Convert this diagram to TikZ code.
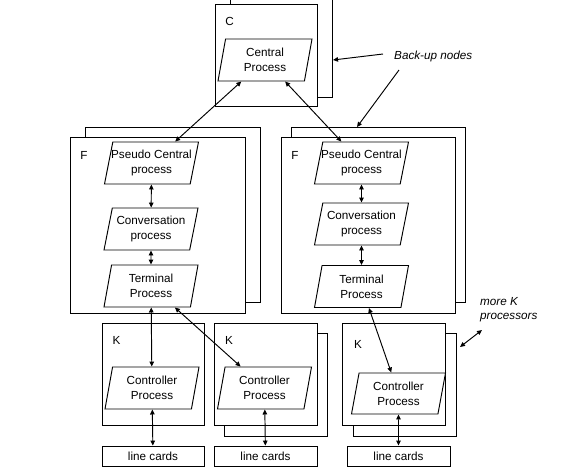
\documentclass[tikz,border=0pt]{standalone}
\usepackage{fontspec}
\setmainfont{Liberation Sans}
\usetikzlibrary{arrows.meta,shapes.geometric,calc}
\begin{document}
\begin{tikzpicture}[x=1pt,y=-1pt,
  every node/.style={font=\fontsize{11.7}{14.7}\selectfont},
  box/.style={draw, fill=white, line width=0.95pt, inner sep=0pt},
  para/.style={draw, fill=white, line width=0.95pt, trapezium, trapezium left angle=72,
    trapezium right angle=108, trapezium stretches body, minimum width=94pt,
    minimum height=42pt, inner sep=0pt, align=center},
  lbl/.style={inner sep=0pt},
  tip/.tip={Triangle[length=5pt,width=4.5pt]},
  conn/.style={line width=0.95pt, tip-tip},
  ptr/.style={line width=0.95pt, -tip},
]
\useasboundingbox (0,0) rectangle (564,467);
\clip (0,0) rectangle (564,467);
% C node
\node[box, minimum width=102pt, minimum height=102pt] (Cb) at (281,46) {};
\node[box, minimum width=102pt, minimum height=102pt] (Cf) at (266,55) {};
\node[lbl] (Cl) at (229.5,21.5) {C};
\node[para] (Cen) at (265,60) {Central\\Process};
% left F
\node[box, minimum width=175pt, minimum height=175pt] (LFb) at (172.5,214.5) {};
\node[box, minimum width=175pt, minimum height=176pt] (LFf) at (157.5,225) {};
\node[lbl] (LFl) at (84,155) {F};
\node[para] (Lpc) at (151.5,163) {\makebox[66pt][c]{Pseudo Central}\\process};
\node[para] (Lcv) at (151,229) {Conversation\\process};
\node[para] (Ltm) at (151,286) {Terminal\\Process};
% right F
\node[box, minimum width=174pt, minimum height=175pt] (RFb) at (378,214.5) {};
\node[box, minimum width=174pt, minimum height=176pt] (RFf) at (368,225) {};
\node[lbl] (RFl) at (295,155) {F};
\node[para] (Rpc) at (361.5,163) {\makebox[66pt][c]{Pseudo Central}\\process};
\node[para] (Rcv) at (361.5,224) {Conversation\\process};
\node[para] (Rtm) at (361.5,286.5) {Terminal\\Process};
% K1
\node[box, minimum width=102pt, minimum height=102pt] (K1f) at (153,374) {};
\node[lbl] (K1l) at (116.5,340) {K};
\node[para] (Ct1) at (152,388) {Controller\\Process};
\node[box, minimum width=102pt, minimum height=20pt] (LC1) at (153,456) {line cards};
% K2
\node[box, minimum width=103pt, minimum height=103pt] (K2b) at (275.5,384.5) {};
\node[box, minimum width=103pt, minimum height=102pt] (K2f) at (265.5,374) {};
\node[lbl] (K2l) at (229,340) {K};
\node[para] (Ct2) at (264.5,388) {Controller\\Process};
\node[box, minimum width=103pt, minimum height=20pt] (LC2) at (265.5,456) {line cards};
% K3
\node[box, minimum width=103pt, minimum height=103pt] (K3b) at (404.5,384.5) {};
\node[box, minimum width=103pt, minimum height=102pt] (K3f) at (393.5,374) {};
\node[lbl] (K3l) at (358,344) {K};
\node[para, minimum height=41pt] (Ct3) at (398.5,393.5) {Controller\\Process};
\node[box, minimum width=103pt, minimum height=20pt] (LC3) at (398.5,456) {line cards};
% connectors
\draw[conn] (Cen) -- (Lpc);
\draw[conn] (Cen) -- (Rpc);
\draw[conn] (Lpc) -- (Lcv);
\draw[conn] (Lcv) -- (Ltm);
\draw[conn] (Rpc) -- (Rcv);
\draw[conn] (Rcv) -- (Rtm);
\draw[conn] (Ltm) -- (Ct1);
\draw[conn] (Ltm) -- (Ct2);
\draw[conn] (Rtm) -- (Ct3);
\draw[conn] (Ct1) -- (LC1);
\draw[conn] (Ct2) -- (LC2);
\draw[conn] (Ct3) -- (LC3);
% annotations
\node[lbl, anchor=base west] (bu) at (394,59.5) {\itshape Back-up nodes};
\coordinate (s1) at (383,54);
\coordinate (t1) at (333,60);
\coordinate (s2) at (399,70);
\coordinate (t2) at (357,127);
\draw[ptr] (s1) -- (t1);
\draw[ptr] (s2) -- (t2);
\node[lbl, align=left, anchor=west, font=\fontsize{11.7}{14}\selectfont\itshape] (mk) at (480,310) {more K\\processors};
\coordinate (m1) at (460,347);
\coordinate (m2) at (482,330);
\draw[conn] (m1) -- (m2);
\end{tikzpicture}
\end{document}
